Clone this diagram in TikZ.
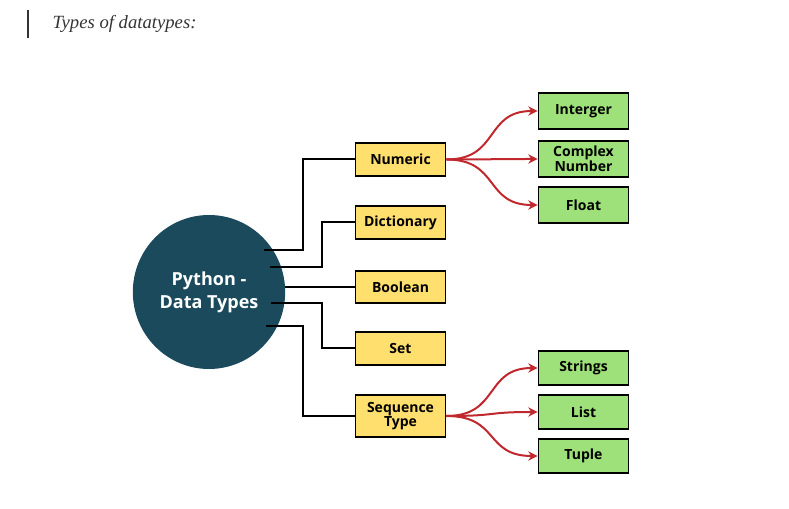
\documentclass[tikz,border=0pt]{standalone}
\usepackage{fontspec}
\setmainfont{Open Sans}
\newfontfamily\titlefont{Liberation Serif}
\usetikzlibrary{arrows.meta,shapes.geometric}
\definecolor{teal}{HTML}{1A4A5C}
\definecolor{yel}{HTML}{FFDF6E}
\definecolor{grn}{HTML}{9EE07A}
\definecolor{rd}{HTML}{C0282E}
\begin{document}
\begin{tikzpicture}[x=0.75pt,y=-0.75pt,
  yb/.style={draw=black,fill=yel,line width=0.9pt,minimum width=68pt,align=center,font=\bfseries\fontsize{10.5}{11}\selectfont},
  gb/.style={draw=black,fill=grn,line width=0.9pt,minimum width=68pt,minimum height=27pt,align=center,font=\bfseries\fontsize{10.5}{11}\selectfont},
  conn/.style={line width=1.5pt,black},
  ra/.style={rd,line width=1.5pt,-{Stealth[length=7pt,width=7pt]}}]
\useasboundingbox (0,0) rectangle (789,509);
\draw[line width=2pt,black!80] (28,10) -- (28,38);
\node[anchor=west,font=\titlefont\itshape\fontsize{14}{16}\selectfont,text=black!80] (title) at (48,24) {Types of datatypes:};
\node[ellipse,fill=teal,minimum width=91.5pt,minimum height=115.5pt,text=white,align=center,font=\bfseries\fontsize{13.5}{17}\selectfont] (py) at (209,292) {Python -\\Data Types};
\node[yb,minimum height=24.75pt] (num) at (400.5,159.5) {Numeric};
\node[yb,minimum height=24.75pt] (dic) at (400.5,222.5) {Dictionary};
\node[yb,minimum height=24pt] (boo) at (400.5,287) {Boolean};
\node[yb,minimum height=24.75pt] (set) at (400.5,348.5) {Set};
\node[yb,minimum height=31.5pt,inner sep=1pt] (seq) at (400.5,416) {Sequence\\Type};
\node[gb] (int) at (583.5,111) {Interger};
\node[gb,inner sep=1pt] (cpx) at (583.5,159) {Complex\\Number};
\node[gb] (flt) at (583.5,205) {Float};
\node[gb,minimum height=25.5pt] (str) at (583.5,368) {Strings};
\node[gb,minimum height=25.5pt] (lst) at (583.5,412) {List};
\node[gb,minimum height=25.5pt] (tup) at (583.5,456) {Tuple};
\coordinate (a1) at (264,250);
\coordinate (a2) at (270,267);
\coordinate (a4) at (271,303);
\coordinate (a5) at (266,326);
\draw[conn] (a1) -- (303,250) |- (num.west);
\draw[conn] (a2) -- (322,267) |- (dic.west);
\draw[conn] (py.east |- boo) -- (boo.west);
\draw[conn] (a4) -- (322,303) |- (set.west);
\draw[conn] (a5) -- (303,326) |- (seq.west);
\foreach \s/\t in {num/int,num/cpx,num/flt,seq/str,seq/lst,seq/tup}
  \draw[ra] (\s.east) .. controls +(40pt,0) and +(-40pt,0) .. (\t.west);
\end{tikzpicture}
\end{document}
